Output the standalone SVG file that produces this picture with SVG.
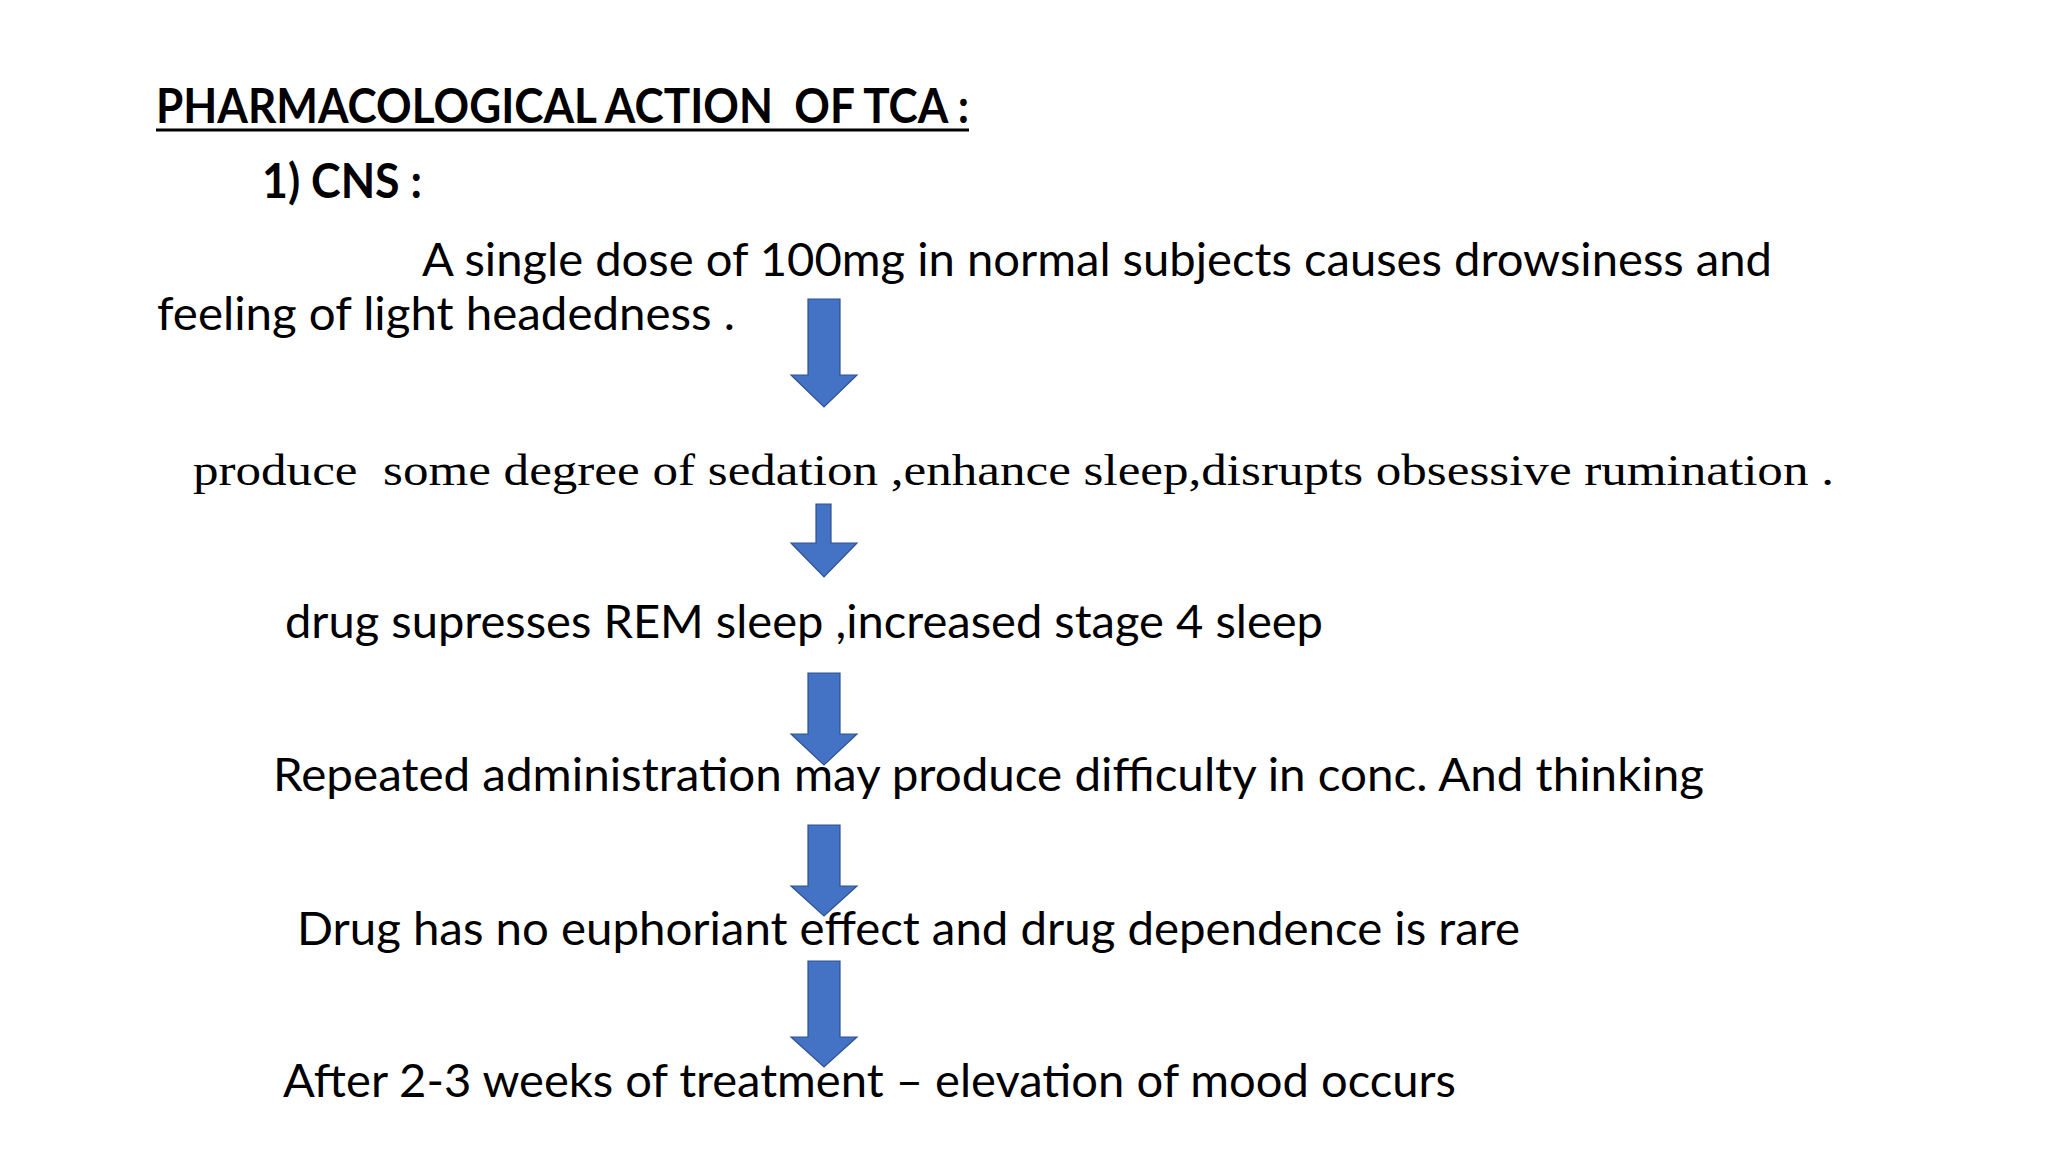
<svg xmlns="http://www.w3.org/2000/svg" width="2048" height="1152" viewBox="0 0 2048 1152">
<style>
.t{font-family:Lato,"Open Sans","Liberation Sans",sans-serif;font-size:46px;fill:#000}
.b{font-weight:bold}
.s{font-family:"Liberation Serif","Times New Roman",serif;font-size:45px;fill:#000}
.arr{fill:#4472C4;stroke:#2F528F;stroke-width:1.2}
</style>
<rect width="2048" height="1152" fill="#fff"/>
<g id="connectors">
<path class="arr" d="M808,299 H840 V375 H857 L824,407 L791,375 H808 Z"/>
<path class="arr" d="M816,504 H831 V543 H857 L824,577 L791,543 H816 Z"/>
<path class="arr" d="M808,673 H840 V734 H857 L824,765 L791,734 H808 Z"/>
<path class="arr" d="M808,825 H840 V886 H857 L824,916 L791,886 H808 Z"/>
<path class="arr" d="M808,961 H840 V1037 H857 L824,1067 L791,1037 H808 Z"/>
</g>
<g id="title">
<text class="t b" x="156" y="123" textLength="813" lengthAdjust="spacingAndGlyphs" style="font-size:48px" xml:space="preserve">PHARMACOLOGICAL ACTION  OF TCA :</text>
<rect x="156" y="128.5" width="813" height="3" fill="#000"/>
</g>
<g id="heading">
<text class="t b" x="262" y="198" textLength="160" lengthAdjust="spacingAndGlyphs" style="font-size:47px">1) CNS :</text>
</g>
<g id="node1">
<text class="t" x="422" y="276" textLength="1350" lengthAdjust="spacingAndGlyphs">A single dose of 100mg in normal subjects causes drowsiness and</text>
<text class="t" x="157" y="330" textLength="578" lengthAdjust="spacingAndGlyphs">feeling of light headedness .</text>
</g>
<g id="node2">
<text class="s" x="193" y="485" textLength="1641" lengthAdjust="spacingAndGlyphs" xml:space="preserve">produce  some degree of sedation ,enhance sleep,disrupts obsessive rumination .</text>
</g>
<g id="node3">
<text class="t" x="285" y="638" textLength="1038" lengthAdjust="spacingAndGlyphs">drug supresses REM sleep ,increased stage 4 sleep</text>
</g>
<g id="node4">
<text class="t" x="273" y="791" textLength="1431" lengthAdjust="spacingAndGlyphs">Repeated administration may produce difficulty in conc. And thinking</text>
</g>
<g id="node5">
<text class="t" x="297" y="945" textLength="1223" lengthAdjust="spacingAndGlyphs">Drug has no euphoriant effect and drug dependence is rare</text>
</g>
<g id="node6">
<text class="t" x="283" y="1097" textLength="1173" lengthAdjust="spacingAndGlyphs">After 2-3 weeks of treatment – elevation of mood occurs</text>
</g>
</svg>
